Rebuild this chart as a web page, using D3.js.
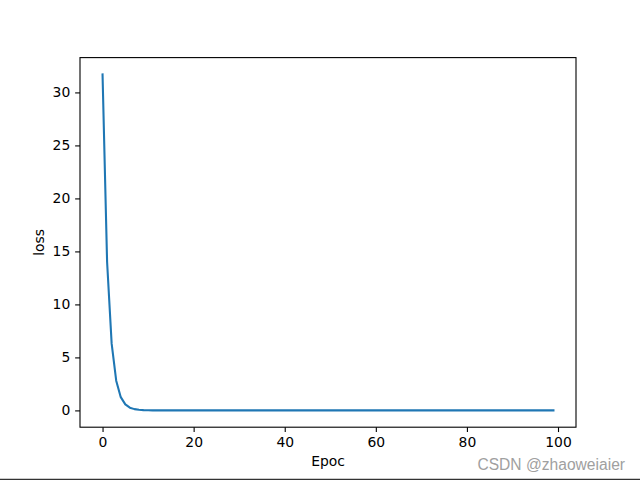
<!DOCTYPE html>
<html>
<head>
<meta charset="utf-8">
<script src="https://cdn.jsdelivr.net/npm/d3@7"></script>
<style>
  body { margin: 0; background: #fff; }
  svg { display: block; font-family: "DejaVu Sans", sans-serif; }
</style>
</head>
<body>
<svg id="chart" width="640" height="480"></svg>
<script>
// loss per epoch
const lossValues = [
  31.7, 14.0, 6.3, 2.8, 1.25, 0.57, 0.26, 0.12, 0.055, 0.025,
  0.012, 0.006, 0.003, 0.0015, 0.001, 0.0008, 0.0006, 0.0005, 0.0004, 0.0004,
  0.0003, 0.0003, 0.0003, 0.0003, 0.0003, 0.0003, 0.0003, 0.0003, 0.0003, 0.0003,
  0.0003, 0.0003, 0.0003, 0.0003, 0.0003, 0.0003, 0.0003, 0.0003, 0.0003, 0.0003,
  0.0003, 0.0003, 0.0003, 0.0003, 0.0003, 0.0003, 0.0003, 0.0003, 0.0003, 0.0003,
  0.0003, 0.0003, 0.0003, 0.0003, 0.0003, 0.0003, 0.0003, 0.0003, 0.0003, 0.0003,
  0.0003, 0.0003, 0.0003, 0.0003, 0.0003, 0.0003, 0.0003, 0.0003, 0.0003, 0.0003,
  0.0003, 0.0003, 0.0003, 0.0003, 0.0003, 0.0003, 0.0003, 0.0003, 0.0003, 0.0003,
  0.0003, 0.0003, 0.0003, 0.0003, 0.0003, 0.0003, 0.0003, 0.0003, 0.0003, 0.0003,
  0.0003, 0.0003, 0.0003, 0.0003, 0.0003, 0.0003, 0.0003, 0.0003, 0.0003, 0.0003
];
const xTicks = [0, 20, 40, 60, 80, 100];
const yTicks = [0, 5, 10, 15, 20, 25, 30];
const xLabel = 'Epoc';
const yLabel = 'loss';
const watermark = 'CSDN @zhaoweiaier';

const svg = d3.select('#chart');
const width = 640, height = 480;
const margin = { left: 80, right: 64, top: 57.6, bottom: 52.8 };
const plotW = width - margin.left - margin.right;
const plotH = height - margin.top - margin.bottom;

const epochs = lossValues.map((d, i) => i);
const xMax = epochs.length - 1;
const xPad = xMax * 0.05;
const yMin = d3.min(lossValues), yMaxV = d3.max(lossValues);
const yPad = (yMaxV - yMin) * 0.05;

const x = d3.scaleLinear()
  .domain([-xPad, xMax + xPad])
  .range([margin.left, margin.left + plotW]);
const y = d3.scaleLinear()
  .domain([yMin - yPad, yMaxV + yPad])
  .range([margin.top + plotH, margin.top]);

// line
const line = d3.line()
  .x((d, i) => x(i))
  .y(d => y(d));

svg.append('path')
  .datum(lossValues)
  .attr('d', line)
  .attr('fill', 'none')
  .attr('stroke', '#1f77b4')
  .attr('stroke-width', 2.08)
  .attr('stroke-linejoin', 'round')
  .attr('stroke-linecap', 'square');

// axes
const xAxis = d3.axisBottom(x).tickValues(xTicks).tickSize(4.86).tickPadding(4.86).tickSizeOuter(0);
const yAxis = d3.axisLeft(y).tickValues(yTicks).tickSize(4.86).tickPadding(4.86).tickSizeOuter(0);

const gx = svg.append('g')
  .attr('transform', `translate(0,${margin.top + plotH})`)
  .call(xAxis);
const gy = svg.append('g')
  .attr('transform', `translate(${margin.left},0)`)
  .call(yAxis);

[gx, gy].forEach(g => {
  g.select('.domain').remove();
  g.selectAll('.tick line').attr('stroke', '#000').attr('stroke-width', 1.1);
  g.selectAll('.tick text')
    .attr('fill', '#000')
    .style('font-size', '13.9px')
    .style('font-family', '"DejaVu Sans", sans-serif');
});

// frame
svg.append('rect')
  .attr('x', margin.left)
  .attr('y', margin.top)
  .attr('width', plotW)
  .attr('height', plotH)
  .attr('fill', 'none')
  .attr('stroke', '#000')
  .attr('stroke-width', 1.1);

// axis labels
svg.append('text')
  .attr('x', margin.left + plotW / 2)
  .attr('y', 466)
  .attr('text-anchor', 'middle')
  .style('font-size', '13.9px')
  .text(xLabel);

svg.append('text')
  .attr('transform', `translate(44,${margin.top + plotH / 2}) rotate(-90)`)
  .attr('text-anchor', 'middle')
  .style('font-size', '13.9px')
  .text(yLabel);

// watermark
svg.append('text')
  .attr('x', 625)
  .attr('y', 470)
  .attr('text-anchor', 'end')
  .attr('fill', '#a0a0a0')
  .style('font-family', '"Liberation Sans", Arial, sans-serif')
  .style('font-size', '15.6px')
  .text(watermark);

// bottom edge line
svg.append('line')
  .attr('x1', 0).attr('x2', width)
  .attr('y1', 479.5).attr('y2', 479.5)
  .attr('stroke', '#333')
  .attr('stroke-width', 1.5);
</script>
</body>
</html>
